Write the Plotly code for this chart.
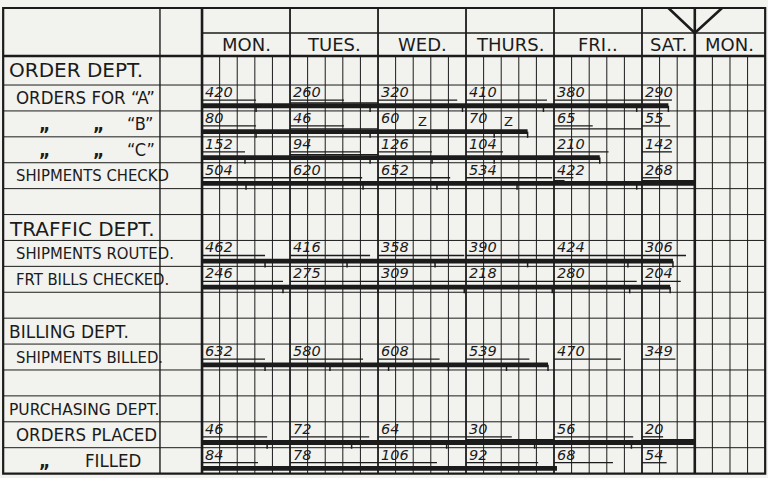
import plotly.graph_objects as go

# ---- layout of the sheet (grid units: 1 unit = one small column, 1 row = one line)
days = ["MON.", "TUES.", "WED.", "THURS.", "FRI..", "SAT.", "MON."]
day_units = [5, 5, 5, 5, 5, 3, 4]
n_rows = 16

dept_rows = [0, 6, 10, 13]
dept_names = ["ORDER DEPT.", "TRAFFIC DEPT.", "BILLING DEPT.", "PURCHASING DEPT."]

item_rows = [1, 2, 3, 4, 7, 8, 11, 14, 15]
item_names = ["ORDERS FOR “A”", "“B”", "“C”", "SHIPMENTS CHECKD",
              "SHIPMENTS ROUTED.", "FRT BILLS CHECKED.", "SHIPMENTS BILLED.",
              "ORDERS PLACED", "FILLED"]

# ---- values written on the chart, one list per activity row (MON..SAT)
daily = [
    [420, 260, 320, 410, 380, 290],
    [80, 46, 60, 70, 65, 55],
    [152, 94, 126, 104, 210, 142],
    [504, 620, 652, 534, 422, 268],
    [462, 416, 358, 390, 424, 306],
    [246, 275, 309, 218, 280, 204],
    [632, 580, 608, 539, 470, 349],
    [46, 72, 64, 30, 56, 20],
    [84, 78, 106, 92, 68, 54],
]

# end of the light daily line (grid units), None = no work that day
thin_end = [
    [3.07, 8.07, 14.5, 19.6, 25.0, 26.7],
    [3.07, 8.07, None, None, 22.2, 26.6],
    [2.44, 9.03, 13.07, 17.1, 23.1, 26.7],
    [5.0, 9.1, 14.1, 19.9, 21.1, 26.0],
    [3.58, 9.55, 14.9, 20.0, 25.0, 27.5],
    [4.6, 10.0, 15.0, 20.0, 24.7, 27.2],
    [3.58, 9.15, 13.5, 18.6, 23.8, 26.9],
    [3.7, 9.5, 15.0, 17.6, 24.5, 26.2],
    [3.18, 10.0, 13.35, 19.1, 23.35, 26.4],
]
# second light line where one is drawn
thin2_end = [
    [None, 10.0, None, None, None, None],
    [None, 10.0, None, None, 25.0, None],
    [None, 10.0, None, None, None, None],
    [None, None, None, None, 20.6, 28.0],
    [None, None, None, None, None, None],
    [None, None, None, None, None, None],
    [None, None, None, None, None, None],
    [None, None, None, 20.0, None, 28.0],
    [None, None, None, None, None, None],
]

# heavy cumulative line end and its tick marks
cum_end = [26.5, 18.5, 22.6, 28.0, 26.76, 26.6, 19.66, 28.0, 20.17]
ticks = [
    [3.07, 9.55, 14.8, 19.4, 24.7, 26.5],
    [3.07, 9.55, 16.6, 18.5],
    [2.44, 9.55, 13.07, 16.6, 22.6],
    [2.5, 9.15, 13.35, 17.9, 24.7],
    [3.58, 8.24, 13.24, 18.5, 24.2, 26.76],
    [4.6, 10.0, 14.9, 19.9, 24.3, 26.6],
    [3.58, 7.27, 10.6, 14.0, 17.3, 19.66],
    [3.7, 8.5, 13.9, 18.9, 24.4],
    [],
]

# idle marks ("Z") : activity row index, x position
idle_row = [1, 1]
idle_x = [12.5, 17.4]

INK = "#1b1b1b"
PAPER = "#f2f2ef"
X_LEFT = -11.3      # left border of the sheet
X_SPLIT = -2.39     # divider between label and blank column
Y_TOP = -1.853
Y_DAYS = -0.888
FIRST_ROW_EXTRA = 0.12   # the first line of the sheet is a little deeper

day_start = [0]
for u in day_units:
    day_start.append(day_start[-1] + u)
X_RIGHT = day_start[-1]


def top(r):
    return r + (FIRST_ROW_EXTRA if r >= 1 else 0)


Y_BOTTOM = top(n_rows)

fig = go.Figure()
shapes = []


def line(x0, y0, x1, y1, w):
    shapes.append(dict(type="line", xref="x", yref="y", x0=x0, y0=y0, x1=x1, y1=y1,
                       line=dict(color=INK, width=w), layer="below"))


# small column lines
for u in range(X_RIGHT + 1):
    if u not in day_start:
        line(u, 0, u, Y_BOTTOM, 1)
# day boundaries
for u in day_start[:-1]:
    line(u, Y_TOP, u, Y_BOTTOM, 2.6 if u in (0, 28) else 1.8)
line(X_SPLIT, Y_TOP, X_SPLIT, Y_BOTTOM, 1.4)
# horizontal rules
line(0, Y_DAYS, X_RIGHT, Y_DAYS, 1.4)
line(X_LEFT, 0, X_RIGHT, 0, 2.4)
for r in range(1, n_rows):
    line(X_LEFT, top(r), X_RIGHT, top(r), 1)
# outer border
shapes.append(dict(type="rect", xref="x", yref="y", x0=X_LEFT, y0=Y_TOP, x1=X_RIGHT, y1=Y_BOTTOM,
                   line=dict(color=INK, width=2.2), layer="below"))

# "today" marker above end of Saturday
fig.add_trace(go.Scatter(x=[26.5, 28, 29.55], y=[Y_TOP, Y_DAYS, Y_TOP], mode="lines",
                         line=dict(color=INK, width=2.6), hoverinfo="skip", showlegend=False))

# light and heavy lines
tx, ty, hx, hy, kx, ky = [], [], [], [], [], []
for i, r in enumerate(item_rows):
    y0 = top(r)
    for d in range(6):
        if thin_end[i][d] is not None:
            tx += [day_start[d], thin_end[i][d], None]
            ty += [y0 + 0.58, y0 + 0.58, None]
        if thin2_end[i][d] is not None:
            tx += [day_start[d], thin2_end[i][d], None]
            ty += [y0 + 0.69, y0 + 0.69, None]
    hx += [0, cum_end[i], None]
    hy += [y0 + 0.8, y0 + 0.8, None]
    for t in ticks[i]:
        kx += [t, t, None]
        ky += [y0 + 0.8, y0 + 1.04, None]

fig.add_trace(go.Scatter(x=tx, y=ty, mode="lines", line=dict(color=INK, width=1.3),
                         hoverinfo="skip", showlegend=False))
fig.add_trace(go.Scatter(x=hx, y=hy, mode="lines", line=dict(color=INK, width=4.8),
                         hoverinfo="skip", showlegend=False))
fig.add_trace(go.Scatter(x=kx, y=ky, mode="lines", line=dict(color=INK, width=1.5),
                         hoverinfo="skip", showlegend=False))

annotations = []
NARROW = "DejaVu Sans Condensed, Liberation Sans Narrow, DejaVu Sans, sans-serif"
WIDE = "DejaVu Sans, sans-serif"


def text(x, y, s, size, family=NARROW, anchor="left", style="normal"):
    annotations.append(dict(x=x, y=y, xref="x", yref="y", text=s, showarrow=False,
                            xanchor=anchor, yanchor="middle",
                            font=dict(family=family, size=size, color=INK, style=style)))


# day headings
for d, name in enumerate(days):
    text((day_start[d] + day_start[d + 1]) / 2, -0.46, name, 18, WIDE, "center")

# department and item labels (hand lettering differs in width from line to line)
dept_sizes = [20, 20, 17, 15.5]
for r, name, sz in zip(dept_rows, dept_names, dept_sizes):
    text(-11.1, top(r) + 0.55, name, sz, WIDE)
for r, name in zip(item_rows, item_names):
    y0 = top(r)
    if name in ("“B”", "“C”"):
        text(-9.4, y0 + 0.52, "<b>„</b>", 19)
        text(-6.3, y0 + 0.52, "<b>„</b>", 19)
        text(-4.35, y0 + 0.5, name, 18)
    elif name == "FILLED":
        text(-9.4, y0 + 0.52, "<b>„</b>", 19)
        text(-6.75, y0 + 0.5, name, 18.5)
    else:
        text(-10.7, y0 + 0.5, name, 16.5 if len(name) > 14 else 18.5)

# daily figures
for i, r in enumerate(item_rows):
    for d in range(6):
        text(day_start[d] + 0.03, top(r) + 0.27, str(daily[i][d]), 14.5, WIDE, style="italic")
for r_i, x in zip(idle_row, idle_x):
    text(x, top(item_rows[r_i]) + 0.42, "Z", 13, WIDE, "center")

fig.update_layout(
    width=768, height=478,
    margin=dict(l=0, r=0, t=0, b=0),
    paper_bgcolor=PAPER, plot_bgcolor=PAPER,
    shapes=shapes, annotations=annotations,
    xaxis=dict(range=[-11.48, 32.16], visible=False, fixedrange=True),
    yaxis=dict(range=[16.29, -2.162], visible=False, fixedrange=True),
)

fig.write_html("out.html", config={"displayModeBar": False},
               post_script="document.body.style.margin = '0';")
